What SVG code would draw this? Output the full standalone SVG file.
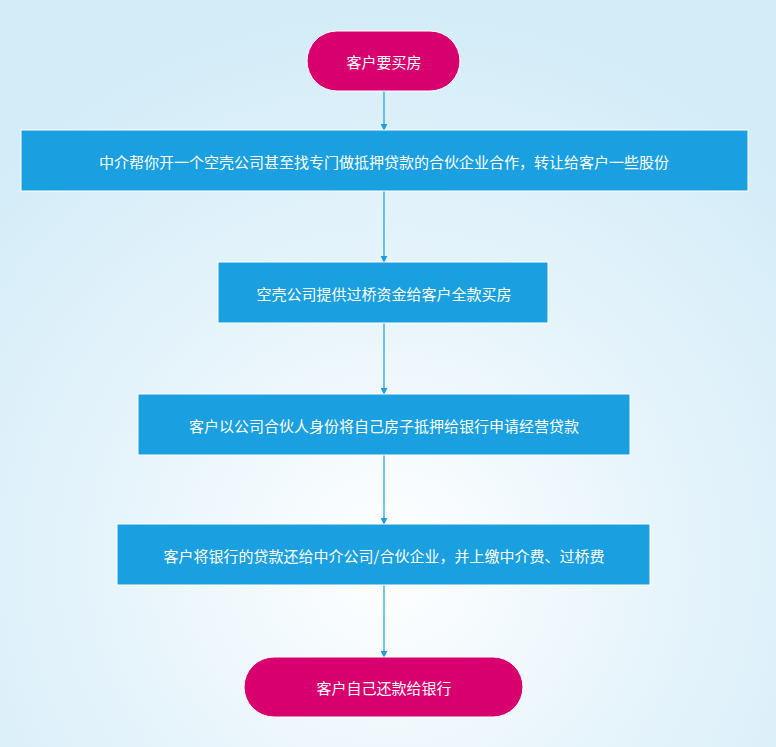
<svg xmlns="http://www.w3.org/2000/svg" width="776" height="747" viewBox="0 0 776 747">
<defs>
<radialGradient id="bg" cx="390" cy="560" r="560" gradientUnits="userSpaceOnUse">
<stop offset="0" stop-color="#ffffff"/><stop offset="0.5" stop-color="#e6f4fb"/><stop offset="1" stop-color="#d3ecf8"/>
</radialGradient>
<marker id="ah" viewBox="0 0 10 10" refX="9" refY="5" markerWidth="7" markerHeight="7" orient="auto" markerUnits="userSpaceOnUse">
<path d="M0,0 L10,5 L0,10 z" fill="#1a9fe0"/>
</marker>
</defs>
<style>
.box{fill:#1a9fe0;stroke:#ffffff;stroke-width:1}
.term{fill:#d8006f;stroke:#ffffff;stroke-width:1}
text{font-family:"Noto Sans CJK SC","Liberation Sans",sans-serif;font-size:15px;fill:#ffffff;text-anchor:middle;dominant-baseline:central}
.c{stroke:#1a9fe0;stroke-width:1.2;fill:none;marker-end:url(#ah)}
</style>
<rect width="776" height="747" fill="url(#bg)"/>
<g id="connectors">
<line class="c" x1="384" y1="91" x2="384" y2="130"/>
<line class="c" x1="384" y1="191" x2="384" y2="262"/>
<line class="c" x1="384" y1="323" x2="384" y2="394"/>
<line class="c" x1="384" y1="455" x2="384" y2="524"/>
<line class="c" x1="384" y1="585" x2="384" y2="657"/>
</g>
<g id="start"><rect class="term" x="307" y="31" width="153" height="60" rx="30"/><text x="384" y="61">客户要买房</text></g>
<g id="step1"><rect class="box" x="21" y="130" width="727" height="61"/><text x="384" y="161">中介帮你开一个空壳公司甚至找专门做抵押贷款的合伙企业合作，转让给客户一些股份</text></g>
<g id="step2"><rect class="box" x="218" y="262" width="330" height="61"/><text x="384" y="293">空壳公司提供过桥资金给客户全款买房</text></g>
<g id="step3"><rect class="box" x="138" y="394" width="492" height="61"/><text x="384" y="425">客户以公司合伙人身份将自己房子抵押给银行申请经营贷款</text></g>
<g id="step4"><rect class="box" x="117" y="524" width="533" height="61"/><text x="384" y="555">客户将银行的贷款还给中介公司/合伙企业，并上缴中介费、过桥费</text></g>
<g id="end"><rect class="term" x="244" y="657" width="279" height="60" rx="30"/><text x="384" y="687">客户自己还款给银行</text></g>
</svg>
